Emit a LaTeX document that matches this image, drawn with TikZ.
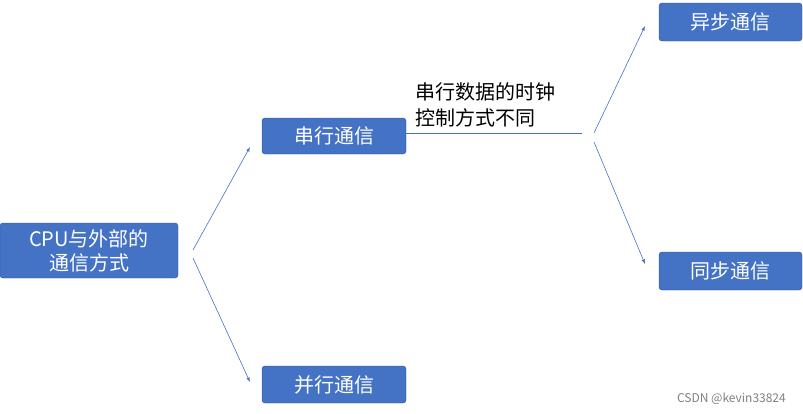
\documentclass[tikz,border=0pt]{standalone}
\usepackage{fontspec}
\setmainfont{Noto Sans CJK SC}
\usetikzlibrary{positioning}
\definecolor{boxblue}{HTML}{4472C4}
\definecolor{boxline}{HTML}{2F528F}
\tikzstyle{block} = [draw=boxline, fill=boxblue, rectangle, rounded corners=3pt,
    text=white, font=\fontsize{20}{24}\selectfont, inner sep=0pt, align=center]
\tikzstyle{link} = [draw=boxblue, -latex, line width=0.6pt]

\begin{document}
\begin{tikzpicture}[x=1pt, y=-1pt]
	\useasboundingbox (0,0) rectangle (803,413);

	% Root block
	\node [block, minimum width=178, minimum height=55] (cpu) at (89,250.5) {CPU与外部的\\通信方式};

	% Second level
	\node [block, minimum width=144, minimum height=36] (serial) at (334,136) {串行通信};
	\node [block, minimum width=144, minimum height=37] (parallel) at (334,384.5) {并行通信};

	% Third level
	\node [block, minimum width=143, minimum height=38] (async) at (730.5,22) {异步通信};
	\node [block, minimum width=143, minimum height=38] (sync) at (730.5,271) {同步通信};

	% Helper points
	\coordinate (s1) at (193,250);
	\coordinate (s2) at (193,258);
	\coordinate (t1) at (250,147);
	\coordinate (t2) at (250,382);
	\coordinate (lineend) at (582,133);
	\coordinate (s3) at (594,133);
	\coordinate (s4) at (594,142);
	\coordinate (t3) at (645,26);
	\coordinate (t4) at (645,264);

	% Connectors
	\draw [link] (s1) -- (t1);
	\draw [link] (s2) -- (t2);
	\draw [boxblue, line width=0.6pt] (serial.east |- lineend) -- (lineend);
	\draw [link] (s3) -- (t3);
	\draw [link] (s4) -- (t4);

	% Label above the line
	\node [anchor=south west, align=left, inner sep=0pt,
		font=\fontsize{20}{26}\selectfont] (note) at (415,127) {串行数据的时钟\\控制方式不同};

	% Watermark
	\node [anchor=south east, text=gray, inner sep=0pt,
		font=\fontsize{12}{14}\selectfont] (mark) at (786,405) {CSDN @kevin33824};
\end{tikzpicture}
\end{document}
